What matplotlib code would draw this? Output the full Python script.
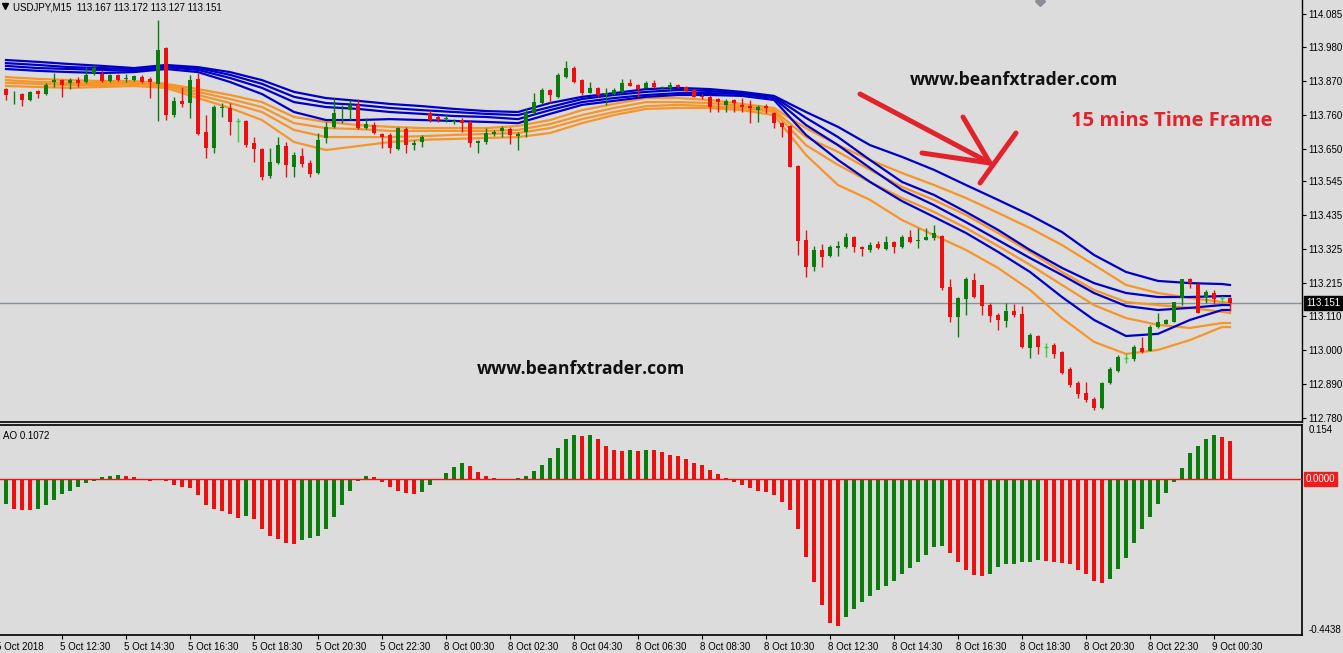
import matplotlib
matplotlib.use("Agg")
import matplotlib.pyplot as plt
from matplotlib.transforms import blended_transform_factory

# Velas USDJPY M15 (apertura, máximo, mínimo, cierre), barra 0 = 5 Oct 10:45
opens = [
    113.843, 113.826, 113.827, 113.808, 113.837, 113.827, 113.866, 113.872, 113.863, 113.872,
    113.866, 113.895, 113.892, 113.869, 113.889, 113.877, 113.872, 113.882, 113.876, 113.860,
    113.976, 113.759, 113.805, 113.798, 113.876, 113.704, 113.653, 113.782, 113.782, 113.740,
    113.740, 113.669, 113.649, 113.562, 113.604, 113.659, 113.591, 113.627, 113.604, 113.572,
    113.685, 113.721, 113.758, 113.775, 113.792, 113.717, 113.727, 113.698, 113.695, 113.649,
    113.714, 113.662, 113.672, 113.766, 113.753, 113.748, 113.738, 113.743, 113.737, 113.669,
    113.672, 113.698, 113.708, 113.714, 113.691, 113.704, 113.766, 113.798, 113.840, 113.818,
    113.882, 113.911, 113.872, 113.830, 113.847, 113.824, 113.827, 113.834, 113.863, 113.856,
    113.847, 113.863, 113.847, 113.847, 113.856, 113.850, 113.840, 113.821, 113.818, 113.811,
    113.792, 113.808, 113.792, 113.788, 113.775, 113.788, 113.766, 113.733, 113.724, 113.594,
    113.355, 113.268, 113.323, 113.304, 113.329, 113.333, 113.365, 113.333, 113.323, 113.343,
    113.326, 113.349, 113.333, 113.365, 113.352, 113.355, 113.362, 113.368, 113.203, 113.106,
    113.165, 113.226, 113.210, 113.145, 113.113, 113.094, 113.126, 113.116, 113.006, 113.045,
    113.010, 113.016, 112.993, 112.938, 112.893, 112.861, 112.841, 112.812, 112.893, 112.932,
    112.974, 112.971, 113.006, 112.997, 113.074, 113.084, 113.090, 113.168, 113.229, 113.213,
    113.171, 113.184, 113.168, 113.167,
]
highs = [
    113.847, 113.837, 113.830, 113.836, 113.840, 113.863, 113.895, 113.876, 113.879, 113.882,
    113.914, 113.921, 113.905, 113.892, 113.892, 113.892, 113.889, 113.889, 113.882, 114.066,
    113.979, 113.818, 113.850, 113.889, 113.895, 113.759, 113.792, 113.798, 113.798, 113.750,
    113.743, 113.688, 113.653, 113.653, 113.688, 113.672, 113.640, 113.653, 113.614, 113.701,
    113.737, 113.814, 113.792, 113.808, 113.811, 113.750, 113.737, 113.701, 113.701, 113.721,
    113.721, 113.679, 113.695, 113.775, 113.759, 113.763, 113.746, 113.750, 113.743, 113.679,
    113.717, 113.711, 113.724, 113.721, 113.704, 113.782, 113.830, 113.847, 113.843, 113.895,
    113.934, 113.918, 113.876, 113.866, 113.850, 113.847, 113.847, 113.876, 113.876, 113.860,
    113.869, 113.872, 113.853, 113.866, 113.860, 113.853, 113.843, 113.827, 113.824, 113.813,
    113.811, 113.811, 113.814, 113.808, 113.792, 113.795, 113.769, 113.737, 113.727, 113.598,
    113.388, 113.336, 113.343, 113.339, 113.352, 113.378, 113.368, 113.336, 113.349, 113.352,
    113.368, 113.352, 113.371, 113.388, 113.394, 113.394, 113.404, 113.371, 113.229, 113.171,
    113.236, 113.249, 113.211, 113.152, 113.119, 113.152, 113.148, 113.142, 113.055, 113.048,
    113.023, 113.023, 112.997, 112.945, 112.900, 112.896, 112.848, 112.896, 112.945, 112.984,
    112.990, 113.016, 113.042, 113.081, 113.119, 113.100, 113.156, 113.230, 113.233, 113.216,
    113.194, 113.194, 113.174, 113.172,
]
lows = [
    113.808, 113.795, 113.788, 113.806, 113.814, 113.825, 113.850, 113.818, 113.843, 113.850,
    113.864, 113.889, 113.867, 113.867, 113.870, 113.866, 113.869, 113.864, 113.814, 113.740,
    113.743, 113.753, 113.785, 113.750, 113.695, 113.620, 113.636, 113.753, 113.695, 113.672,
    113.656, 113.607, 113.549, 113.556, 113.602, 113.559, 113.559, 113.591, 113.559, 113.569,
    113.669, 113.717, 113.733, 113.743, 113.715, 113.715, 113.699, 113.653, 113.636, 113.646,
    113.636, 113.646, 113.656, 113.737, 113.737, 113.737, 113.730, 113.704, 113.656, 113.636,
    113.666, 113.691, 113.688, 113.666, 113.646, 113.688, 113.763, 113.795, 113.798, 113.814,
    113.879, 113.863, 113.824, 113.829, 113.818, 113.792, 113.824, 113.830, 113.852, 113.818,
    113.845, 113.847, 113.843, 113.840, 113.847, 113.834, 113.816, 113.811, 113.769, 113.769,
    113.769, 113.769, 113.769, 113.733, 113.737, 113.766, 113.717, 113.688, 113.590, 113.307,
    113.236, 113.255, 113.268, 113.300, 113.304, 113.331, 113.317, 113.304, 113.317, 113.326,
    113.322, 113.313, 113.330, 113.346, 113.329, 113.354, 113.355, 113.194, 113.090, 113.042,
    113.113, 113.168, 113.113, 113.090, 113.064, 113.074, 113.106, 113.006, 112.974, 112.987,
    112.977, 112.974, 112.922, 112.880, 112.845, 112.832, 112.806, 112.809, 112.890, 112.929,
    112.958, 112.964, 112.990, 112.996, 113.071, 113.083, 113.089, 113.145, 113.200, 113.118,
    113.152, 113.148, 113.155, 113.127,
]
closes = [
    113.824, 113.827, 113.808, 113.834, 113.827, 113.856, 113.872, 113.856, 113.872, 113.863,
    113.889, 113.911, 113.869, 113.889, 113.872, 113.879, 113.885, 113.866, 113.866, 113.970,
    113.759, 113.805, 113.795, 113.872, 113.698, 113.653, 113.785, 113.784, 113.737, 113.740,
    113.662, 113.649, 113.559, 113.607, 113.662, 113.598, 113.630, 113.601, 113.569, 113.679,
    113.721, 113.766, 113.760, 113.792, 113.717, 113.730, 113.701, 113.688, 113.653, 113.717,
    113.662, 113.669, 113.688, 113.743, 113.743, 113.750, 113.740, 113.733, 113.669, 113.675,
    113.701, 113.704, 113.717, 113.695, 113.698, 113.766, 113.801, 113.840, 113.824, 113.889,
    113.911, 113.866, 113.830, 113.847, 113.824, 113.830, 113.840, 113.863, 113.853, 113.843,
    113.863, 113.850, 113.850, 113.856, 113.850, 113.837, 113.818, 113.818, 113.785, 113.801,
    113.805, 113.798, 113.785, 113.782, 113.785, 113.782, 113.733, 113.721, 113.591, 113.352,
    113.268, 113.323, 113.300, 113.333, 113.336, 113.365, 113.333, 113.326, 113.339, 113.329,
    113.349, 113.333, 113.365, 113.349, 113.355, 113.365, 113.378, 113.200, 113.106, 113.168,
    113.229, 113.171, 113.142, 113.110, 113.097, 113.126, 113.113, 113.010, 113.048, 113.010,
    113.010, 112.987, 112.925, 112.887, 112.858, 112.838, 112.812, 112.893, 112.938, 112.977,
    112.974, 113.010, 112.993, 113.074, 113.090, 113.097, 113.155, 113.229, 113.216, 113.119,
    113.187, 113.165, 113.168, 113.151,
]

# Medias móviles leídas cada 4 barras (azules arriba, naranjas abajo en el rango)
ma_bars = [0, 4, 8, 12, 16, 20, 24, 28, 32, 36, 40, 44, 48, 52, 56, 60, 64, 68, 72, 76,
           80, 84, 88, 92, 96, 100, 104, 108, 112, 116, 120, 124, 128, 132, 136, 140, 144,
           148, 152, 153]
blue_1 = [113.937, 113.931, 113.924, 113.918, 113.911, 113.921, 113.914, 113.898, 113.872, 113.834,
          113.814, 113.805, 113.795, 113.788, 113.779, 113.772, 113.769, 113.798, 113.818, 113.830,
          113.843, 113.847, 113.843, 113.834, 113.821, 113.769, 113.721, 113.662, 113.624, 113.582,
          113.533, 113.485, 113.436, 113.381, 113.307, 113.252, 113.223, 113.216, 113.213, 113.210]
blue_2 = [113.927, 113.921, 113.914, 113.911, 113.908, 113.918, 113.911, 113.889, 113.860, 113.818,
          113.798, 113.792, 113.782, 113.775, 113.769, 113.763, 113.759, 113.785, 113.811, 113.824,
          113.834, 113.840, 113.837, 113.830, 113.818, 113.750, 113.688, 113.614, 113.543, 113.501,
          113.446, 113.388, 113.323, 113.265, 113.216, 113.184, 113.171, 113.171, 113.174, 113.174]
blue_3 = [113.918, 113.911, 113.908, 113.905, 113.902, 113.914, 113.905, 113.879, 113.847, 113.801,
          113.785, 113.779, 113.769, 113.763, 113.756, 113.753, 113.746, 113.775, 113.801, 113.814,
          113.824, 113.830, 113.830, 113.827, 113.814, 113.727, 113.662, 113.588, 113.517, 113.468,
          113.413, 113.355, 113.297, 113.242, 113.184, 113.142, 113.129, 113.136, 113.145, 113.145]
blue_4 = [113.908, 113.902, 113.898, 113.895, 113.898, 113.908, 113.898, 113.866, 113.827, 113.769,
          113.743, 113.743, 113.746, 113.743, 113.740, 113.737, 113.733, 113.763, 113.792, 113.805,
          113.818, 113.824, 113.824, 113.821, 113.808, 113.695, 113.614, 113.543, 113.481, 113.430,
          113.378, 113.317, 113.252, 113.171, 113.097, 113.045, 113.052, 113.097, 113.129, 113.129]
orange_1 = [113.882, 113.876, 113.872, 113.869, 113.869, 113.860, 113.843, 113.824, 113.801, 113.753,
            113.737, 113.727, 113.721, 113.717, 113.717, 113.717, 113.724, 113.743, 113.775, 113.795,
            113.814, 113.814, 113.808, 113.795, 113.782, 113.717, 113.662, 113.614, 113.572, 113.533,
            113.491, 113.443, 113.394, 113.339, 113.275, 113.210, 113.184, 113.168, 113.155, 113.152]
orange_2 = [113.872, 113.866, 113.863, 113.863, 113.863, 113.856, 113.834, 113.811, 113.785, 113.733,
            113.717, 113.714, 113.708, 113.708, 113.708, 113.708, 113.711, 113.730, 113.759, 113.782,
            113.801, 113.801, 113.798, 113.788, 113.775, 113.688, 113.640, 113.582, 113.527, 113.485,
            113.436, 113.378, 113.317, 113.252, 113.194, 113.155, 113.145, 113.136, 113.123, 113.119]
orange_3 = [113.863, 113.860, 113.856, 113.856, 113.860, 113.853, 113.824, 113.798, 113.769, 113.711,
            113.688, 113.688, 113.688, 113.691, 113.695, 113.698, 113.701, 113.717, 113.746, 113.769,
            113.788, 113.792, 113.788, 113.782, 113.769, 113.662, 113.598, 113.543, 113.491, 113.446,
            113.394, 113.336, 113.275, 113.210, 113.145, 113.103, 113.081, 113.071, 113.087, 113.087]
orange_4 = [113.853, 113.850, 113.847, 113.850, 113.853, 113.847, 113.814, 113.782, 113.743, 113.672,
            113.646, 113.659, 113.672, 113.679, 113.682, 113.685, 113.688, 113.701, 113.733, 113.759,
            113.779, 113.782, 113.782, 113.775, 113.759, 113.630, 113.533, 113.485, 113.420, 113.371,
            113.323, 113.265, 113.194, 113.103, 113.026, 112.987, 113.000, 113.032, 113.074, 113.074]

# Awesome Oscillator, una barra por vela
ao_values = [
    -0.071, -0.084, -0.088, -0.089, -0.084, -0.074, -0.059, -0.042, -0.035, -0.023,
    -0.012, -0.006, 0.006, 0.008, 0.012, 0.008, 0.005, -0.001, -0.005, -0.002,
    -0.004, -0.018, -0.023, -0.026, -0.044, -0.073, -0.085, -0.090, -0.098, -0.110,
    -0.105, -0.113, -0.141, -0.162, -0.170, -0.182, -0.185, -0.173, -0.167, -0.162,
    -0.141, -0.107, -0.074, -0.035, -0.006, 0.008, 0.005, -0.009, -0.023, -0.035,
    -0.040, -0.042, -0.036, -0.017, 0.001, 0.017, 0.035, 0.046, 0.037, 0.020,
    0.008, 0.002, 0.000, -0.003, 0.002, 0.008, 0.023, 0.040, 0.060, 0.089,
    0.115, 0.126, 0.124, 0.125, 0.115, 0.095, 0.083, 0.080, 0.083, 0.080,
    0.083, 0.082, 0.077, 0.070, 0.066, 0.057, 0.046, 0.040, 0.025, 0.014,
    0.002, -0.008, -0.016, -0.026, -0.033, -0.038, -0.046, -0.064, -0.087, -0.141,
    -0.222, -0.293, -0.358, -0.409, -0.418, -0.393, -0.370, -0.350, -0.333, -0.317,
    -0.305, -0.291, -0.269, -0.254, -0.237, -0.215, -0.194, -0.191, -0.211, -0.237,
    -0.260, -0.273, -0.276, -0.269, -0.251, -0.243, -0.241, -0.237, -0.236, -0.231,
    -0.232, -0.237, -0.240, -0.243, -0.260, -0.271, -0.289, -0.296, -0.285, -0.257,
    -0.225, -0.182, -0.141, -0.107, -0.071, -0.040, -0.009, 0.033, 0.075, 0.094,
    0.115, 0.126, 0.121, 0.1072,
]

price_ticks = [114.085, 113.980, 113.870, 113.760, 113.650, 113.545, 113.435, 113.325,
               113.215, 113.110, 113.000, 112.890, 112.780]
last_price = 113.151
time_labels = ["5 Oct 12:30", "5 Oct 14:30", "5 Oct 16:30", "5 Oct 18:30", "5 Oct 20:30",
               "5 Oct 22:30", "8 Oct 00:30", "8 Oct 02:30", "8 Oct 04:30", "8 Oct 06:30",
               "8 Oct 08:30", "8 Oct 10:30", "8 Oct 12:30", "8 Oct 14:30", "8 Oct 16:30",
               "8 Oct 18:30", "8 Oct 20:30", "8 Oct 22:30", "9 Oct 00:30"]

BG = "#dcdcdc"
UP = "#0a7d0a"
DOWN = "#ea1010"
DOJI = "#32d232"
BLUE = "#0000c8"
ORANGE = "#f6952a"
SMALL = dict(fontsize=7, family="Liberation Sans")

W, H = 1343, 653
fig = plt.figure(figsize=(W / 100, H / 100), dpi=100, facecolor=BG)

ax = fig.add_axes([0, 1 - 422 / H, 1302 / W, 422 / H], facecolor=BG)
ax_ao = fig.add_axes([0, 1 - 635 / H, 1302 / W, 210 / H], facecolor=BG)

n = len(closes)
xs = list(range(n))

# medias móviles
for line in [orange_4, orange_3, orange_2, orange_1]:
    ax.plot(ma_bars, line, color=ORANGE, lw=1.6, zorder=2, solid_joinstyle="round")
for line in [blue_4, blue_3, blue_2, blue_1]:
    ax.plot(ma_bars, line, color=BLUE, lw=1.6, zorder=2, solid_joinstyle="round")

# velas
for i in xs:
    o, h, l, c = opens[i], highs[i], lows[i], closes[i]
    if o == c:
        col = DOJI
    elif c > o:
        col = UP
    else:
        col = DOWN
    ax.vlines(i, l, h, color=col, lw=1.0, zorder=3)
    if o == c:
        ax.hlines(o, i - 0.3, i + 0.3, color=col, lw=1.0, zorder=3)
    else:
        ax.bar(i, abs(c - o), bottom=min(o, c), width=0.62, color=col, lw=0, zorder=3)

ax.axhline(last_price, color="#88909a", lw=1.0, zorder=1)

ax.set_xlim(-0.75, 162)
ax.set_ylim(114.131 - 422 / 309.4, 114.131)
ax.set_xticks([])
ax.yaxis.tick_right()
ax.set_yticks(price_ticks)
ax.set_yticklabels([f"{v:.3f}" for v in price_ticks], family="Liberation Sans")
ax.tick_params(axis="y", length=3, width=0.8, pad=1.5, labelsize=7, colors="black")
for s in ["top", "left"]:
    ax.spines[s].set_visible(False)
ax.spines["right"].set_linewidth(1.0)
ax.spines["bottom"].set_linewidth(1.2)

tr = blended_transform_factory(ax.transAxes, ax.transData)
ax.text(1.003, last_price, "113.151", transform=tr, ha="left", va="center", color="white",
        bbox=dict(boxstyle="square,pad=0.2", fc="black", ec="black"),
        zorder=5, clip_on=False, **SMALL)

# AO
ao_cols = []
for i, v in enumerate(ao_values):
    prev = ao_values[i - 1] if i > 0 else v
    ao_cols.append(UP if v >= prev else DOWN)
ax_ao.bar(xs, ao_values, width=0.6, color=ao_cols, lw=0, zorder=2)
ax_ao.axhline(0, color="#e81818", lw=1.0, zorder=3)
ax_ao.set_xlim(-0.75, 162)
ax_ao.set_ylim(-0.4438, 0.154)
ax_ao.set_yticks([])
ax_ao.spines["left"].set_visible(False)
for s in ["top", "right", "bottom"]:
    ax_ao.spines[s].set_linewidth(1.2)
tick_pos = [7 + 8 * k for k in range(len(time_labels))]
ax_ao.set_xticks(tick_pos)
ax_ao.set_xticklabels([])
ax_ao.tick_params(axis="x", length=3, width=0.8)
trx = blended_transform_factory(ax_ao.transData, ax_ao.transAxes)
for p, lab in zip([-1] + tick_pos, ["5 Oct 2018"] + time_labels):
    ax_ao.text(p - 0.2, -0.035, lab, transform=trx, ha="left", va="top", color="black",
               clip_on=False, **SMALL)

tra = blended_transform_factory(ax_ao.transAxes, ax_ao.transData)
ax_ao.text(1.005, 0.154, "0.154", transform=tra, ha="left", va="top", clip_on=False, **SMALL)
ax_ao.text(1.005, -0.4438, "-0.4438", transform=tra, ha="left", va="bottom", clip_on=False, **SMALL)
ax_ao.text(1.003, 0.0, "0.0000", transform=tra, ha="left", va="center", color="white",
           bbox=dict(boxstyle="square,pad=0.2", fc="#ee1c1c", ec="#ee1c1c"), clip_on=False, **SMALL)
ax_ao.text(0.002, 0.97, "AO 0.1072", transform=ax_ao.transAxes, ha="left", va="top", **SMALL)

# capa de anotaciones en píxeles
ov = fig.add_axes([0, 0, 1, 1], facecolor="none")
ov.set_xlim(0, W)
ov.set_ylim(H, 0)
ov.axis("off")
ov.plot(5, 6, marker="v", ms=5, color="black")
ov.plot(1040, 1, marker="D", ms=5, color="#8a8f96")
ov.text(13, 7, "USDJPY,M15  113.167 113.172 113.127 113.151", ha="left", va="center", **SMALL)
ov.text(1014, 80, "www.beanfxtrader.com", ha="center", va="center", fontsize=12.7,
        fontweight="bold", family="Open Sans", color="#111111")
ov.text(581, 369, "www.beanfxtrader.com", ha="center", va="center", fontsize=12.7,
        fontweight="bold", family="Open Sans", color="#111111")
ov.text(1172, 121, "15 mins Time Frame", ha="center", va="center", fontsize=14.5,
        fontweight="bold", family="Open Sans", color="#e3232b")
arrow_kw = dict(color="#e3232b", lw=3.6, solid_capstyle="round")
ov.plot([860, 990], [94, 163], **arrow_kw)
ov.plot([963, 990], [117, 163], **arrow_kw)
ov.plot([922, 990], [153, 163], **arrow_kw)
ov.plot([1016, 980], [133, 183], **arrow_kw)

fig.savefig("out.png", dpi=100, facecolor=BG)
